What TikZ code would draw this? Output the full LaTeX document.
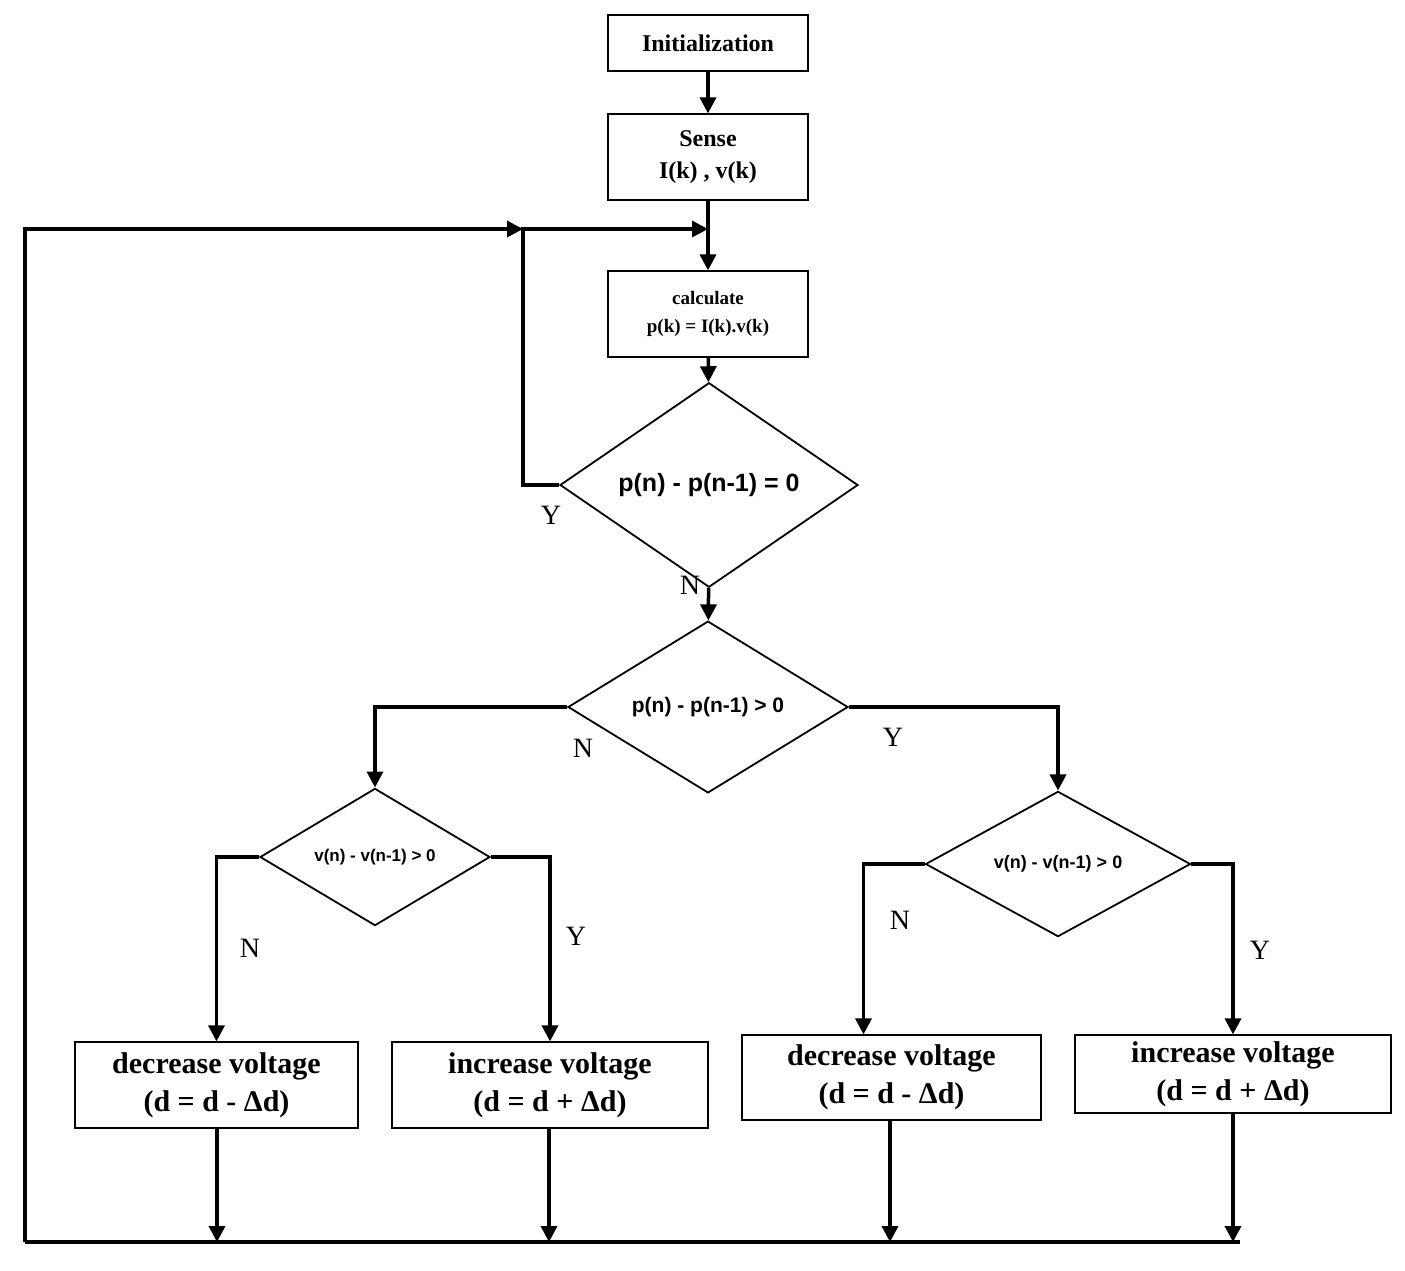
\documentclass[tikz,border=0pt]{standalone}
\usepackage{fontspec}
\setmainfont{Liberation Serif}
\newfontfamily\sansf{Liberation Sans}
\usetikzlibrary{shapes.geometric,arrows.meta}
\begin{document}
\begin{tikzpicture}[x=1pt,y=-1pt,
  box/.style={draw,line width=1.2pt,inner sep=0pt,font=\bfseries,align=center},
  dia/.style={draw,diamond,line width=1.8pt,inner sep=0pt,font=\sansf\bfseries},
  ln/.style={line width=3.5pt},
  ar/.style={ln,-{Triangle[length=16pt,width=16pt]}},
  lab/.style={font=\fontsize{28}{30}\selectfont}]
\useasboundingbox (0,0) rectangle (1405,1270);
\node[box,minimum width=200pt,minimum height=56pt,font=\bfseries\fontsize{24}{26}\selectfont] (init) at (708,43) {Initialization};
\node[box,minimum width=200pt,minimum height=86pt,font=\bfseries\fontsize{24}{32}\selectfont] (sense) at (708,157) {Sense\\I(k) , v(k)};
\node[box,minimum width=200pt,minimum height=86pt,font=\bfseries\fontsize{19}{28}\selectfont] (calc) at (708,314) {calculate\\p(k) = I(k).v(k)};
\node[dia,minimum width=298pt,minimum height=140pt,font=\sansf\bfseries\fontsize{25}{27}\selectfont] (d1) at (709,485) {p(n) - p(n-1) = 0};
\node[dia,minimum width=280pt,minimum height=100pt,font=\sansf\bfseries\fontsize{21}{23}\selectfont] (d2) at (708,707) {p(n) - p(n-1) > 0};
\node[dia,minimum width=230pt,minimum height=84pt,font=\sansf\bfseries\fontsize{17}{19}\selectfont] (d3) at (375,857) {v(n) - v(n-1) > 0};
\node[dia,minimum width=265pt,minimum height=98pt,font=\sansf\bfseries\fontsize{18}{20}\selectfont] (d4) at (1058,864) {v(n) - v(n-1) > 0};
\tikzset{big/.style={box,font=\bfseries\fontsize{30}{38}\selectfont}}
\node[big,minimum width=283pt,minimum height=86pt] (b1) at (216.5,1085) {decrease voltage\\(d = d - Δd)};
\node[big,minimum width=316pt,minimum height=86pt] (b2) at (550,1085) {increase voltage\\(d = d + Δd)};
\node[big,minimum width=299pt,minimum height=85pt] (b3) at (891.5,1077.5) {decrease voltage\\(d = d - Δd)};
\node[big,minimum width=316pt,minimum height=78pt] (b4) at (1233,1074) {increase voltage\\(d = d + Δd)};
\coordinate (j) at (708,229);
\coordinate (j2) at (523,229);
\coordinate (bl) at (25,1242);
\coordinate (tl) at (25,229);
\coordinate (br) at (1240,1242);
\draw[ar] (init) -- (sense);
\draw[ln] (sense) -- (j);
\draw[ar] (j) -- (calc);
\draw[ar] (calc) -- (d1);
\draw[ar] (d1.west) -| (j2) -- (j);
\draw[ar] (d1) -- (d2);
\draw[ar] (d2.west) -| (d3.north);
\draw[ar] (d2.east) -| (d4.north);
\draw[ar] (d3.west) -| (b1.north);
\draw[ar] (d3.east) -| (b2.north);
\draw[ar] (d4.west) -| ([xshift=-28pt]b3.north);
\draw[ar] (d4.east) -| (b4.north);
\draw[ln] (bl) -- (br);
\draw[ar] (bl) -- (tl) -- (j2);
\foreach \b/\x in {b1/217,b2/549,b3/890,b4/1233}
  \draw[ar] (\b.south -| \x,0) -- (\x,1242);
\node[lab] (l1) at (551,515) {Y};
\node[lab] (l2) at (690,585) {N};
\node[lab] (l3) at (583,748) {N};
\node[lab] (l4) at (893,737) {Y};
\node[lab] (l5) at (250,948) {N};
\node[lab] (l6) at (576,936) {Y};
\node[lab] (l7) at (900,920) {N};
\node[lab] (l8) at (1260,950) {Y};
\end{tikzpicture}
\end{document}
